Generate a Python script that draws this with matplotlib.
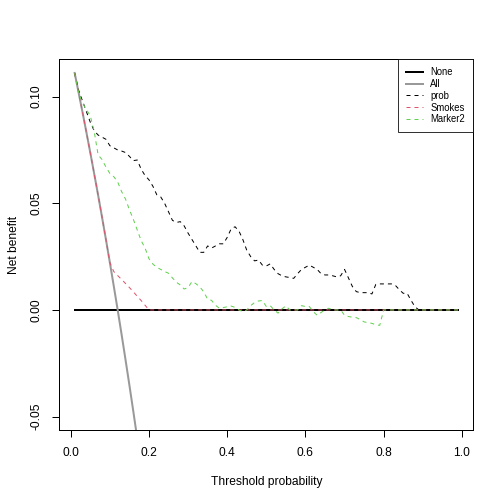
import matplotlib
matplotlib.use("Agg")
import matplotlib.pyplot as plt
import numpy as np

plt.rcParams['font.family'] = ['Liberation Sans', 'DejaVu Sans']

# thresholds 0.01 .. 0.99
thresh = np.round(np.arange(1, 100) / 100, 2)

# net benefit, "treat all" (runs off the bottom)
all_t = [0.01, 0.02, 0.03, 0.04, 0.05, 0.06, 0.07, 0.08, 0.09, 0.10,
         0.11, 0.12, 0.13, 0.14, 0.15, 0.16, 0.17, 0.18]
all_nb = [0.1111, 0.102, 0.0928, 0.0833, 0.0737, 0.0638, 0.0538, 0.0435, 0.0330, 0.0222,
          0.0112, 0.0, -0.0115, -0.0233, -0.0353, -0.0476, -0.0602, -0.0732]

# prob model, 0.01 .. 0.89, then zero
prob_nb = [0.111, 0.103, 0.098, 0.093, 0.088, 0.084, 0.082, 0.081, 0.080, 0.077,
           0.076, 0.075, 0.0745, 0.0738, 0.072, 0.070, 0.0703, 0.066, 0.063, 0.061,
           0.058, 0.054, 0.053, 0.050, 0.046, 0.042, 0.041, 0.0414, 0.0394, 0.036,
           0.033, 0.030, 0.027, 0.027, 0.030, 0.029, 0.030, 0.031, 0.031, 0.034,
           0.038, 0.039, 0.037, 0.033, 0.028, 0.025, 0.023, 0.0234, 0.021, 0.0206,
           0.0216, 0.019, 0.017, 0.016, 0.0155, 0.0152, 0.0148, 0.017, 0.019, 0.020,
           0.021, 0.020, 0.019, 0.017, 0.0164, 0.0164, 0.016, 0.0155, 0.016, 0.019,
           0.015, 0.011, 0.0086, 0.0081, 0.0081, 0.0081, 0.0075, 0.012, 0.0122, 0.0122,
           0.0122, 0.0122, 0.0115, 0.0095, 0.0078, 0.0078, 0.0045, 0.0015, 0.0]
prob_nb = prob_nb + [0.0] * (99 - len(prob_nb))

# Smokes (binary), 0.01 .. 0.20, then zero
smokes_nb = [0.1111, 0.102, 0.0928, 0.0833, 0.0737, 0.0638, 0.0538, 0.0435, 0.0330, 0.0222,
             0.0180, 0.0161, 0.0143, 0.0124, 0.0105, 0.0085, 0.0064, 0.0044, 0.0022, 0.0]
smokes_nb = smokes_nb + [0.0] * (99 - len(smokes_nb))

# Marker2, 0.01 .. 0.80, then zero
marker2_nb = [0.111, 0.102, 0.097, 0.094, 0.091, 0.0836, 0.0727, 0.0705, 0.067, 0.064,
              0.0625, 0.060, 0.0555, 0.052, 0.047, 0.0425, 0.0375, 0.0325, 0.029, 0.024,
              0.0215, 0.020, 0.019, 0.018, 0.0172, 0.015, 0.013, 0.0117, 0.0098, 0.0105,
              0.0133, 0.0123, 0.0108, 0.0085, 0.005, 0.0045, 0.0022, 0.0008, 0.0011, 0.0015,
              0.0018, 0.0012, 0.0, -0.0008, 0.0, 0.002, 0.0035, 0.0042, 0.0044, 0.0016,
              0.002, 0.0, -0.0015, 0.0005, 0.0019, 0.0, 0.0, 0.0, 0.002, 0.0016,
              0.0016, -0.0008, -0.0025, -0.0012, 0.0, 0.0008, 0.0, 0.0, 0.0, -0.0025,
              -0.0031, -0.0034, -0.0036, -0.0045, -0.0056, -0.006, -0.0063, -0.007, -0.0072, 0.0]
marker2_nb = marker2_nb + [0.0] * (99 - len(marker2_nb))

none_nb = [0.0] * 99

labels = ['None', 'All', 'prob', 'Smokes', 'Marker2']

fig = plt.figure(figsize=(7, 7), dpi=72)
ax = fig.add_axes([0.1177, 0.1468, 0.8214, 0.7355])

ax.plot(thresh, none_nb, color='black', lw=2, label=labels[0])
ax.plot(all_t, all_nb, color='#999999', lw=2, label=labels[1])
ax.plot(thresh, prob_nb, color='black', lw=1, ls=(0, (4, 4)), label=labels[2])
ax.plot(thresh, smokes_nb, color='#DF536B', lw=1, ls=(0, (4, 4)), label=labels[3])
ax.plot(thresh, marker2_nb, color='#61D04F', lw=1, ls=(0, (4, 4)), label=labels[4])

ax.set_xlim(-0.0292, 1.0292)
ax.set_ylim(-0.0563, 0.1175)
ax.set_xticks([0.0, 0.2, 0.4, 0.6, 0.8, 1.0])
ax.set_xticklabels(['0.0', '0.2', '0.4', '0.6', '0.8', '1.0'])
ax.set_yticks([-0.05, 0.0, 0.05, 0.10])
ax.set_yticklabels(['-0.05', '0.00', '0.05', '0.10'], rotation=90, va='center')
ax.tick_params(length=7, width=1, pad=10, labelsize=12, color='black')
for s in ax.spines.values():
    s.set_linewidth(1)
    s.set_color('black')

ax.set_xlabel('Threshold probability', fontsize=12)
ax.set_ylabel('Net benefit', fontsize=12)
ax.xaxis.set_label_coords(0.5, -0.1403)
ax.xaxis.label.set_va('center')
ax.yaxis.set_label_coords(-0.11, 0.5)
ax.yaxis.label.set_va('center')

leg = ax.legend(loc='upper right', borderaxespad=0, fontsize=9.5, frameon=True,
                fancybox=False, handlelength=1.85, handletextpad=0.75,
                labelspacing=0.18, borderpad=0.85)
leg.get_frame().set_edgecolor('black')
leg.get_frame().set_linewidth(1)

fig.savefig('out.png', dpi=72)
